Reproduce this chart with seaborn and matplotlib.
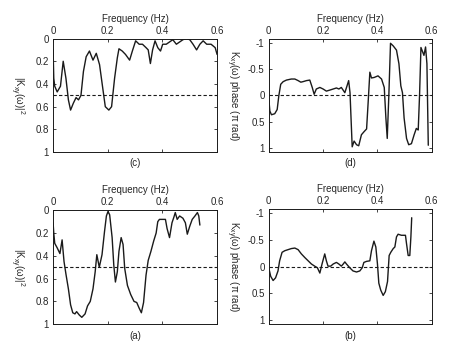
import matplotlib
matplotlib.use("Agg")
import matplotlib.pyplot as plt
import seaborn as sns

# panel (a): |K_xy(w)|^2
freq_a = [0.000, 0.0025, 0.006, 0.015, 0.025, 0.033, 0.040, 0.047, 0.056, 0.064,
          0.072, 0.080, 0.086, 0.096, 0.105, 0.117, 0.126, 0.136, 0.146, 0.154,
          0.160, 0.169, 0.179, 0.188, 0.195, 0.201, 0.207, 0.216, 0.222, 0.228,
          0.235, 0.241, 0.249, 0.256, 0.262, 0.272, 0.284, 0.296, 0.306, 0.315,
          0.323, 0.331, 0.340, 0.348, 0.358, 0.368, 0.377, 0.383, 0.389, 0.401,
          0.411, 0.417, 0.426, 0.435, 0.442, 0.447, 0.454, 0.463, 0.475, 0.484,
          0.491, 0.500, 0.509, 0.519, 0.528, 0.533, 0.537]
coh_a = [0.11, 0.20, 0.29, 0.33, 0.38, 0.26, 0.45, 0.56, 0.69, 0.83,
         0.90, 0.91, 0.89, 0.92, 0.94, 0.91, 0.84, 0.80, 0.69, 0.54,
         0.39, 0.50, 0.39, 0.19, 0.05, 0.01, 0.04, 0.24, 0.48, 0.63,
         0.54, 0.36, 0.24, 0.30, 0.51, 0.66, 0.74, 0.80, 0.81, 0.86,
         0.90, 0.81, 0.57, 0.44, 0.36, 0.27, 0.20, 0.10, 0.08, 0.08,
         0.08, 0.16, 0.24, 0.11, 0.06, 0.02, 0.08, 0.05, 0.07, 0.11,
         0.21, 0.14, 0.08, 0.05, 0.02, 0.05, 0.13]

# panel (b): phase (pi rad)
freq_b = [0.000, 0.007, 0.016, 0.025, 0.034, 0.040, 0.049, 0.059, 0.071, 0.083,
          0.096, 0.108, 0.120, 0.133, 0.145, 0.157, 0.169, 0.179, 0.188, 0.196,
          0.206, 0.212, 0.218, 0.228, 0.237, 0.249, 0.258, 0.267, 0.274, 0.280,
          0.286, 0.298, 0.310, 0.323, 0.335, 0.344, 0.350, 0.360, 0.372, 0.378,
          0.387, 0.394, 0.400, 0.405, 0.412, 0.421, 0.429, 0.437, 0.443, 0.449,
          0.458, 0.464, 0.470, 0.476, 0.488, 0.498, 0.503, 0.507, 0.513, 0.519,
          0.523, 0.526]
phase_b = [0.02, 0.18, 0.26, 0.21, 0.08, -0.11, -0.27, -0.30, -0.32, -0.34,
           -0.35, -0.32, -0.24, -0.17, -0.11, -0.05, -0.01, 0.02, 0.12, -0.05,
           -0.24, -0.11, -0.01, -0.01, -0.05, -0.08, -0.05, -0.01, -0.05, -0.09,
           -0.05, 0.02, 0.08, 0.10, 0.08, 0.02, -0.08, -0.10, -0.11, -0.30,
           -0.48, -0.37, -0.05, 0.31, 0.44, 0.54, 0.47, 0.28, -0.21, -0.27,
           -0.34, -0.37, -0.56, -0.61, -0.59, -0.59, -0.59, -0.43, -0.21, -0.21,
           -0.56, -0.92]

# panel (c): |K_xy(w)|^2
freq_c = [0.000, 0.0025, 0.006, 0.015, 0.027, 0.037, 0.047, 0.056, 0.064, 0.074,
          0.084, 0.093, 0.102, 0.111, 0.121, 0.133, 0.146, 0.158, 0.170, 0.183,
          0.191, 0.204, 0.214, 0.225, 0.235, 0.241, 0.253, 0.265, 0.280, 0.290,
          0.302, 0.315, 0.327, 0.340, 0.348, 0.356, 0.364, 0.373, 0.383, 0.393,
          0.401, 0.414, 0.426, 0.438, 0.451, 0.463, 0.475, 0.488, 0.500, 0.512,
          0.525, 0.537, 0.549, 0.562, 0.578, 0.593, 0.600]
coh_c = [0.10, 0.35, 0.42, 0.47, 0.42, 0.20, 0.35, 0.54, 0.63, 0.57,
         0.52, 0.54, 0.50, 0.29, 0.16, 0.11, 0.19, 0.13, 0.23, 0.46,
         0.60, 0.63, 0.60, 0.35, 0.17, 0.09, 0.11, 0.14, 0.19, 0.11,
         0.02, 0.05, 0.05, 0.08, 0.10, 0.22, 0.10, 0.02, 0.08, 0.11,
         0.05, 0.05, 0.03, 0.01, 0.05, 0.03, 0.01, 0.00, 0.01, 0.05,
         0.10, 0.05, 0.02, 0.05, 0.05, 0.08, 0.14]

# panel (d): phase (pi rad)
freq_d = [0.000, 0.004, 0.010, 0.022, 0.031, 0.037, 0.044, 0.053, 0.065, 0.083,
          0.096, 0.108, 0.118, 0.126, 0.139, 0.151, 0.160, 0.167, 0.175, 0.188,
          0.200, 0.212, 0.225, 0.237, 0.249, 0.258, 0.267, 0.280, 0.288, 0.294,
          0.299, 0.307, 0.314, 0.323, 0.331, 0.341, 0.351, 0.360, 0.366, 0.372,
          0.378, 0.388, 0.402, 0.415, 0.425, 0.431, 0.436, 0.442, 0.448, 0.458,
          0.470, 0.479, 0.486, 0.492, 0.498, 0.507, 0.515, 0.525, 0.535, 0.543,
          0.550, 0.555, 0.560, 0.566, 0.571, 0.577, 0.582, 0.587]
phase_d = [0.05, 0.30, 0.37, 0.35, 0.27, 0.01, -0.21, -0.26, -0.29, -0.31,
           -0.31, -0.28, -0.25, -0.26, -0.28, -0.29, -0.15, -0.02, -0.12, -0.15,
           -0.12, -0.08, -0.10, -0.12, -0.14, -0.12, -0.15, -0.05, -0.18, -0.28,
           -0.05, 0.98, 0.87, 0.94, 0.96, 0.75, 0.69, 0.64, 0.11, -0.44,
           -0.33, -0.34, -0.37, -0.31, -0.15, 0.43, 0.82, -0.02, -0.99, -0.94,
           -0.86, -0.60, -0.18, -0.05, 0.43, 0.82, 0.94, 0.92, 0.75, 0.63,
           0.66, -0.02, -0.91, -0.83, -0.76, -0.92, -0.60, 0.95]

freq_ticks = [0, 0.2, 0.4, 0.6]
freq_labels = ["0", "0.2", "0.4", "0.6"]
coh_ticks = [0, 0.2, 0.4, 0.6, 0.8, 1]
coh_labels = ["0", "0.2", "0.4", "0.6", "0.8", "1"]
phase_ticks = [-1, -0.5, 0, 0.5, 1]
phase_labels = ["-1", "-0.5", "0", "0.5", "1"]

sns.set_style("white")
plt.rcParams['font.family'] = ['Liberation Sans', 'DejaVu Sans']
plt.rcParams['font.size'] = 7
plt.rcParams['mathtext.default'] = 'regular'

fig = plt.figure(figsize=(4.74, 3.57), dpi=100)

# the scan is mirrored top-to-bottom: (c)/(d) on top, (a)/(b) below,
# frequency axis on top and value axes running downwards
panels = [
    ([0.112, 0.574, 0.346, 0.318], freq_c, coh_c, "coh", "(c)"),
    ([0.567, 0.574, 0.344, 0.318], freq_d, phase_d, "phase", "(d)"),
    ([0.112, 0.092, 0.346, 0.319], freq_a, coh_a, "coh", "(a)"),
    ([0.567, 0.092, 0.344, 0.322], freq_b, phase_b, "phase", "(b)"),
]

for rect, fx, fy, kind, tag in panels:
    ax = fig.add_axes(rect)
    sns.lineplot(x=fx, y=fy, ax=ax, color="#1a1a1a", linewidth=1.0)
    ax.set_xlim(0, 0.6)
    ax.set_xticks(freq_ticks)
    ax.set_xticklabels(freq_labels)
    if kind == "coh":
        ax.axhline(0.5, color="#1a1a1a", linewidth=0.8, linestyle=(0, (3, 2)))
        ax.set_ylim(1, 0)
        ax.set_yticks(coh_ticks)
        ax.set_yticklabels(coh_labels)
        ax.set_ylabel(r"$|K_{xy}(\omega)|^2$", rotation=270, labelpad=20)
    else:
        ax.axhline(0, color="#1a1a1a", linewidth=0.8, linestyle=(0, (3, 2)))
        ax.set_ylim(1.08, -1.08)
        ax.set_yticks(phase_ticks)
        ax.set_yticklabels(phase_labels)
        ax.set_ylabel(r"$K_{xy}(\omega)$ phase ($\pi$ rad)", rotation=270, labelpad=17)
    ax.xaxis.set_label_position("top")
    ax.set_xlabel("Frequency (Hz)", labelpad=3)
    ax.tick_params(axis="x", top=True, bottom=True, labeltop=True, labelbottom=False,
                   direction="in", length=2.5, width=0.6, pad=2)
    ax.tick_params(axis="y", left=True, right=True, direction="in",
                   length=2.5, width=0.6, pad=3)
    for s in ax.spines.values():
        s.set_color("#1a1a1a")
        s.set_linewidth(0.7)
    ax.text(0.5, -0.1, tag, transform=ax.transAxes, ha="center", va="center")

fig.savefig("out.png", dpi=100, facecolor="white")
